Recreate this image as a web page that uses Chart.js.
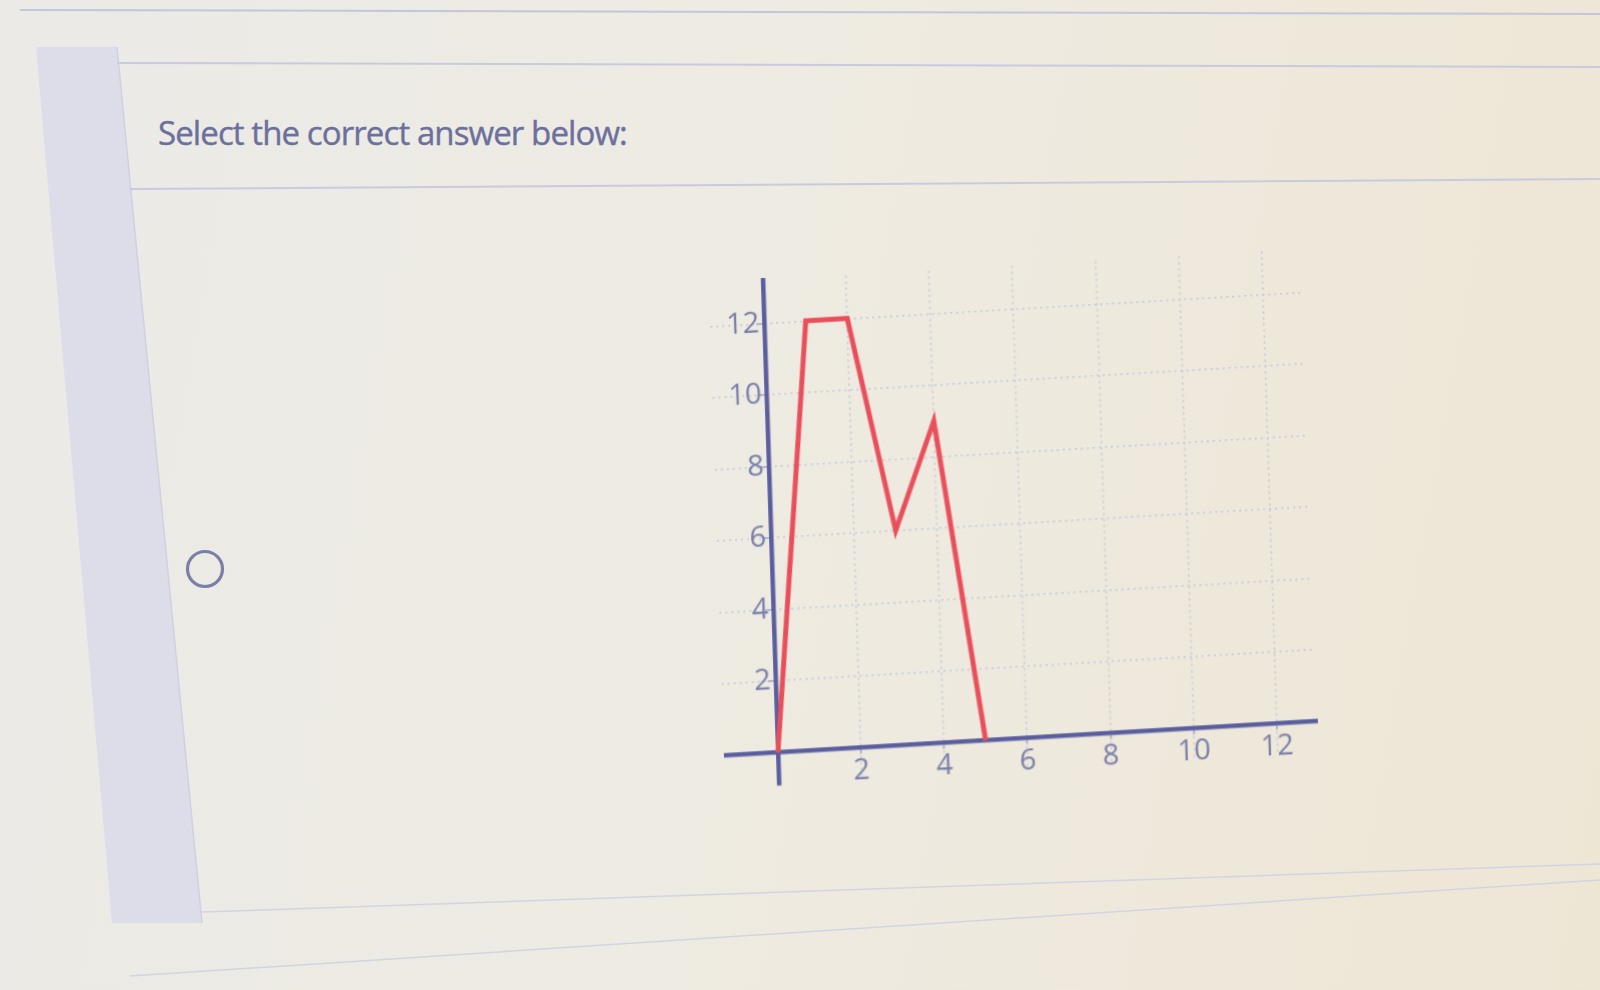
<!DOCTYPE html>
<html>
<head>
<meta charset="utf-8">
<script src="https://cdn.jsdelivr.net/npm/chart.js@4.4.1/dist/chart.umd.min.js"></script>
<style>
  html, body { margin:0; padding:0; }
  body { width:1600px; height:990px; overflow:hidden; position:relative;
         background: linear-gradient(100deg, #ebeae7 0%, #eeebe2 45%, #eee6d5 100%); }
  #deco { position:absolute; left:0; top:0; }
  #title { position:absolute; left:158px; top:110px; font-family:"Open Sans", sans-serif;
           font-size:33px; color:#6c709c; white-space:nowrap; letter-spacing:-0.9px;
           -webkit-text-stroke:0.4px #6c709c; }
  #wrap { position:absolute; left:723.7px; top:260px; width:594px; height:545px;
          transform-origin:53.3px 494.5px; transform: matrix(1, -0.058, 0.032, 1, 0, 0); }
</style>
</head>
<body>
<svg id="deco" width="1600" height="990" viewBox="0 0 1600 990">
  <line x1="20" y1="10" x2="1600" y2="14" stroke="#c3c5db" stroke-width="2"/>
  <polygon points="36,47 117,47 202,923 112,923" fill="#dcdde9"/>
  <line x1="117" y1="63" x2="1600" y2="67" stroke="#c8cadf" stroke-width="2"/>
  <line x1="117" y1="47" x2="202" y2="923" stroke="#cfd1e3" stroke-width="1.5"/>
  <line x1="130" y1="189" x2="1600" y2="179" stroke="#c8cadf" stroke-width="2"/>
  <line x1="202" y1="912" x2="1600" y2="864" stroke="#d3d4e3" stroke-width="1.5"/>
  <line x1="130" y1="976" x2="1600" y2="880" stroke="#d3d4e3" stroke-width="1.5"/>
  <circle cx="205" cy="569" r="17.5" fill="none" stroke="#7b7fa8" stroke-width="3.2"/>
</svg>
<div id="title">Select the correct answer below:</div>
<div id="wrap"><canvas id="c" width="594" height="545"></canvas></div>
<script>
const xValues = [0, 1, 2, 3, 4, 5];
const yValues = [0, 12, 12, 6, 9, 0];
const xTickValues = [2, 4, 6, 8, 10, 12];
const yTickValues = [2, 4, 6, 8, 10, 12];

const AXIS = '#5a5e9f';
const GRID = '#c2c5dc';
const LABEL = '#7a7ea8';

const points = xValues.map((x, i) => ({ x: x, y: yValues[i] }));

new Chart(document.getElementById('c'), {
  type: 'scatter',
  data: {
    datasets: [{
      data: points,
      showLine: true,
      borderColor: '#e94f5b',
      borderWidth: 5,
      pointRadius: 0,
      fill: false,
      tension: 0
    }]
  },
  options: {
    responsive: false,
    animation: false,
    devicePixelRatio: 1,
    layout: { padding: 0 },
    plugins: { legend: { display: false }, tooltip: { enabled: false } },
    scales: {
      x: {
        type: 'linear',
        min: -1.3,
        max: 13.0,
        position: { y: 0 },
        afterBuildTicks: s => { s.ticks = xTickValues.map(v => ({ value: v })); },
        grid: { color: GRID, lineWidth: 1.5, tickLength: 4, tickColor: '#a2a5c5', tickWidth: 1.5 },
        border: { display: true, color: AXIS, width: 4.5, dash: [2, 4] },
        ticks: { color: LABEL, padding: 2, font: { family: 'Open Sans', size: 29, lineHeight: 1.2 }, maxRotation: 0, autoSkip: false }
      },
      y: {
        type: 'linear',
        min: -0.9,
        max: 13.2,
        position: { x: 0 },
        afterBuildTicks: s => { s.ticks = yTickValues.map(v => ({ value: v })); },
        grid: { color: GRID, lineWidth: 1.5, tickLength: 6, tickColor: '#a2a5c5', tickWidth: 1.5 },
        border: { display: true, color: AXIS, width: 4.5, dash: [2, 4] },
        ticks: { color: LABEL, padding: 3, font: { family: 'Open Sans', size: 29, lineHeight: 1.2 }, autoSkip: false,
                 callback: v => String(v) + '\u2009' }
      }
    }
  }
});
</script>
</body>
</html>
